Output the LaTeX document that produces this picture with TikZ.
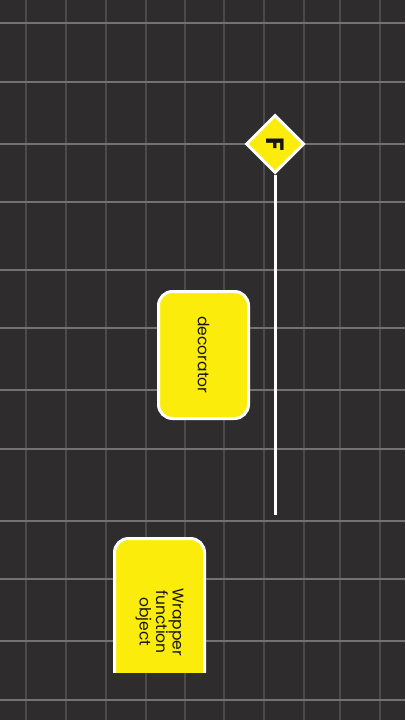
\documentclass[tikz,border=0pt]{standalone}
\usepackage{fontspec}
\setmainfont{Poppins}
\usetikzlibrary{shapes.geometric}
\definecolor{bg}{HTML}{2E2C2D}
\definecolor{vgrid}{HTML}{4C4A4B}
\definecolor{hgrid}{HTML}{747273}
\definecolor{ylw}{HTML}{FCEC0C}
\definecolor{ink}{HTML}{151515}
\tikzset{
  vline/.style={draw=vgrid, line width=2pt},
  hline/.style={draw=hgrid, line width=2.8pt},
  card/.style={rectangle, rounded corners=14pt, fill=ylw, draw=white, line width=3pt,
    rotate=-90, text=ink, font=\fontsize{15.5}{16.5}\selectfont, align=center, inner sep=0pt},
  flag/.style={diamond, aspect=1, fill=ylw, draw=white, line width=3pt, minimum width=58pt,
    minimum height=58pt, inner sep=0pt, rotate=-90, text=ink, font=\fontsize{25}{26}\selectfont\bfseries},
  wire/.style={draw=white, line width=3pt}
}
\begin{document}
\begin{tikzpicture}[x=1pt, y=-1pt]
  \fill[bg] (0,0) rectangle (405,720);
  \useasboundingbox (0,0) rectangle (405,720);
  \foreach \gx in {26,66,106,146,185,224,264,304,340,380}
    \draw[vline] (\gx,0) -- (\gx,720);
  \foreach \gy in {23,82,144,202,270,328,390,449,521,579,641,700}
    \draw[hline] (0,\gy) -- (405,\gy);
  \node[flag] (f) at (275,144) {F};
  \coordinate (wend) at (275,515);
  \draw[wire] (f) -- (wend);
  \node[card, minimum width=127pt, minimum height=90pt] (dec) at (203.5,355) {decorator};
  \begin{scope}
    \clip (0,0) rectangle (405,672);
    \node[card, minimum width=167pt, minimum height=90pt] (wrap) at (159.5,622) {Wrapper\\function\\object};
  \end{scope}
\end{tikzpicture}
\end{document}
